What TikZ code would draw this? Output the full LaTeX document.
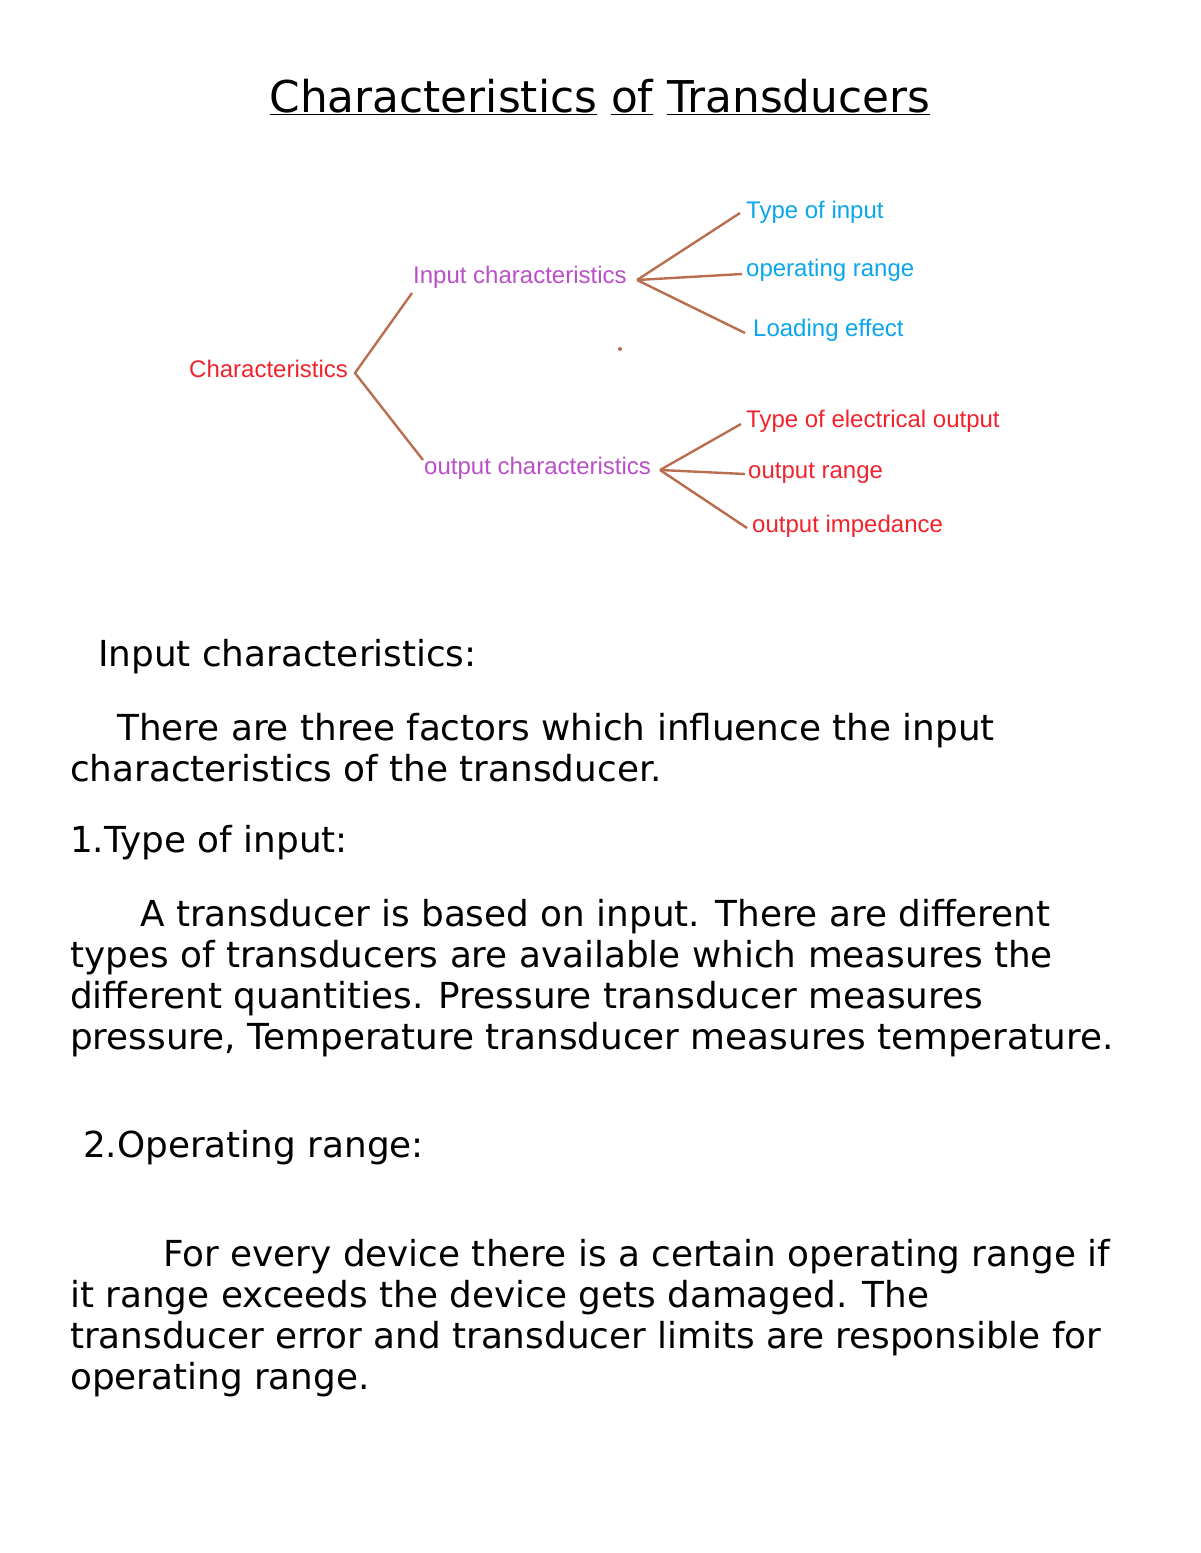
\documentclass[tikz,border=0pt]{standalone}
\usepackage{fontspec}
\setmainfont{DejaVu Sans}
\newfontfamily\arialf{Liberation Sans}
\definecolor{br}{RGB}{185,110,80}
\definecolor{pu}{RGB}{185,80,200}
\definecolor{bl}{RGB}{10,165,235}
\definecolor{rd}{RGB}{240,35,45}
\begin{document}
\begin{tikzpicture}[x=1pt,y=-1pt,
  lab/.style={inner sep=0,anchor=west,font=\arialf\fontsize{24}{28}\selectfont},
  body/.style={inner sep=0,anchor=base west,font=\fontsize{35.8}{42}\selectfont},
  conn/.style={draw=br,line width=2.4pt}]
\useasboundingbox (0,0) rectangle (1200,1553);
\node[inner sep=0,anchor=base,font=\fontsize{43.8}{50}\selectfont] (title) at (600,112) {\underline{Characteristics} \underline{of} \underline{Transducers}};
\node[lab,text=rd] (ch) at (189,369) {Characteristics};
\node[lab,text=pu] (ic) at (413,277) {Input characteristics};
\node[lab,text=pu] (oc) at (424,468) {output characteristics};
\node[lab,text=bl] (t1) at (746,212) {Type of input};
\node[lab,text=bl] (t2) at (746,270) {operating range};
\node[lab,text=bl] (t3) at (753,330) {Loading effect};
\node[lab,text=rd] (o1) at (746,421) {Type of electrical output};
\node[lab,text=rd] (o2) at (748,473) {output range};
\node[lab,text=rd] (o3) at (752,526) {output impedance};
\coordinate (c0) at (355,373);
\coordinate (c1) at (412,293);
\coordinate (c2) at (423,460);
\coordinate (ci) at (637,280);
\coordinate (co) at (660,470);
\draw[conn] (c1) -- (c0) -- (c2);
\draw[conn] (ci) -- (740,213);
\draw[conn] (ci) -- (742,274);
\draw[conn] (ci) -- (745,333);
\draw[conn] (co) -- (741,424);
\draw[conn] (co) -- (745,474);
\draw[conn] (co) -- (747,528);
\fill[br] (620,349) circle (2);
\node[body] (b1) at (98,666) {Input characteristics:};
\node[body] (b2) at (117,740) {There are three factors which influence the input};
\node[body] (b3) at (70,781) {characteristics of the transducer.};
\node[body] (b4) at (70,852) {1.Type of input:};
\node[body] (b5) at (140,926) {A transducer is based on input. There are different};
\node[body] (b6) at (70,967) {types of transducers are available which measures the};
\node[body] (b7) at (70,1008) {different quantities. Pressure transducer measures};
\node[body] (b8) at (70,1049) {pressure, Temperature transducer measures temperature.};
\node[body] (b9) at (83,1157) {2.Operating range:};
\node[body] (b10) at (163,1266) {For every device there is a certain operating range if};
\node[body] (b11) at (70,1307) {it range exceeds the device gets damaged. The};
\node[body] (b12) at (70,1348) {transducer error and transducer limits are responsible for};
\node[body] (b13) at (70,1389) {operating range.};
\end{tikzpicture}
\end{document}
